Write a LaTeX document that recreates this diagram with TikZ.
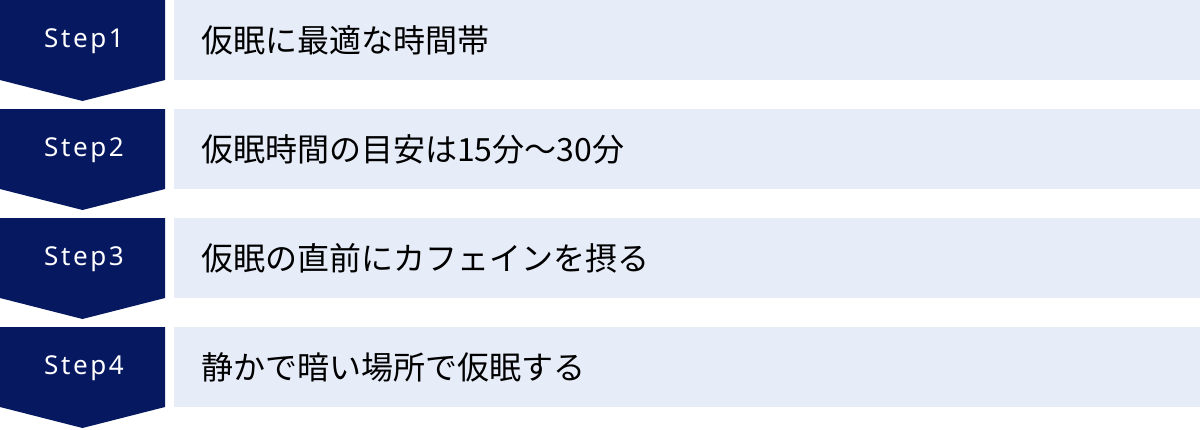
\documentclass[tikz,border=0pt]{standalone}
\usepackage{fontspec}
\setmainfont{Noto Sans CJK JP}
\newfontfamily\stepfont[LetterSpace=10]{Noto Sans}
\usepackage{tikz}
\definecolor{navy}{HTML}{06185F}
\definecolor{pale}{HTML}{E6ECF8}
\tikzset{stepbadge/.style={fill=navy}}
\tikzset{steplabel/.style={anchor=base, text=white, font=\stepfont\fontsize{26}{26}\selectfont}}
\tikzset{itembar/.style={fill=pale}}
\tikzset{itemtext/.style={anchor=west, inner sep=0, font=\fontsize{32}{32}\selectfont}}

\begin{document}
\begin{tikzpicture}[x=1pt, y=-1pt]
    \useasboundingbox(0, 0)rectangle(1200, 429);
    \foreach \i/\txt in {1/仮眠に最適な時間帯, 2/仮眠時間の目安は15分～30分, 3/仮眠の直前にカフェインを摂る, 4/静かで暗い場所で仮眠する}{
        \pgfmathsetmacro\rowtop{(\i-1)*109}
        \fill[stepbadge](0, \rowtop)--(165, \rowtop)--(165, \rowtop+80)--(82.5, \rowtop+101)--(0, \rowtop+80)--cycle;
        \node[steplabel](step\i) at (84, \rowtop+47.5){Step\i};
        \fill[itembar](174, \rowtop)rectangle(1200, \rowtop+80);
        \node[itemtext](item\i) at (201, \rowtop+40){\txt};
    }
\end{tikzpicture}
\end{document}
